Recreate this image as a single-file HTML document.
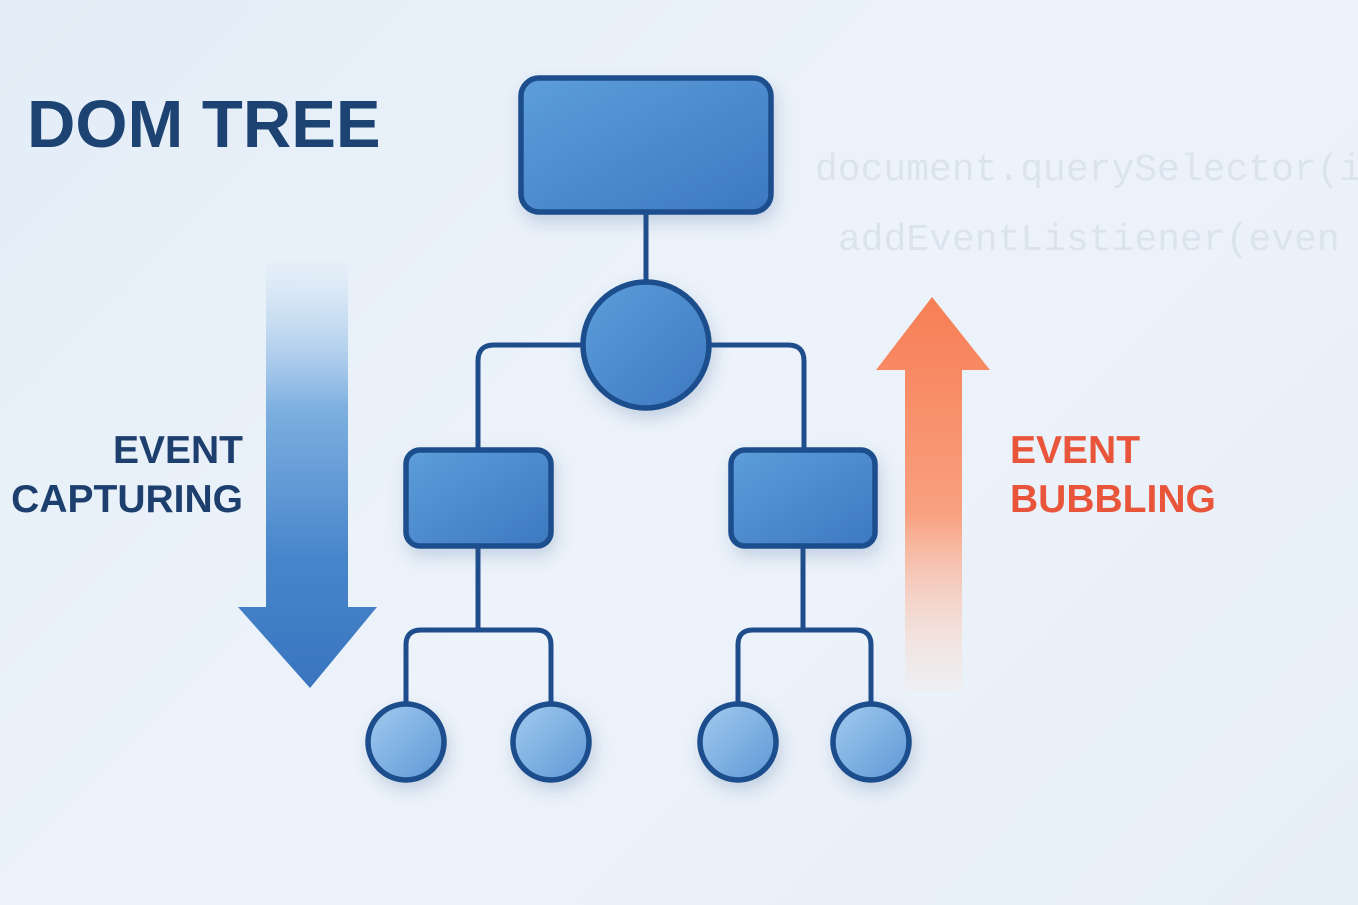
<!DOCTYPE html>
<html><head><meta charset="utf-8"><style>
html,body{margin:0;padding:0;}
body{width:1358px;height:905px;overflow:hidden;background:linear-gradient(135deg,#e3edf7 0%,#edf3fa 50%,#e6eef7 100%);}
svg{display:block;}
</style></head><body>
<svg width="1358" height="905" viewBox="0 0 1358 905" xmlns="http://www.w3.org/2000/svg">
<defs>
<linearGradient id="nf" x1="0" y1="0" x2="1" y2="1"><stop offset="0" stop-color="#5d9edb"/><stop offset="1" stop-color="#3d78c0"/></linearGradient>
<linearGradient id="lf" x1="0" y1="0" x2="1" y2="1"><stop offset="0" stop-color="#a3cbef"/><stop offset="1" stop-color="#5d98d6"/></linearGradient>
<linearGradient id="ba" x1="0" y1="257" x2="0" y2="688" gradientUnits="userSpaceOnUse"><stop offset="0" stop-color="#e8f1fa" stop-opacity="0.5"/><stop offset="0.35" stop-color="#7eb0e0"/><stop offset="0.7" stop-color="#4785cb"/><stop offset="1" stop-color="#3a75bf"/></linearGradient>
<linearGradient id="oa" x1="0" y1="297" x2="0" y2="690" gradientUnits="userSpaceOnUse"><stop offset="0" stop-color="#f77e55"/><stop offset="0.55" stop-color="#f9a07f"/><stop offset="1" stop-color="#fbe3d8" stop-opacity="0.2"/></linearGradient>
<filter id="sh" x="-20%" y="-20%" width="140%" height="150%"><feDropShadow dx="3" dy="8" stdDeviation="8" flood-color="#3a5f90" flood-opacity="0.22"/></filter>
</defs>
<text x="815" y="180" font-family="Liberation Mono, DejaVu Sans Mono, monospace" font-size="38" fill="#dbe4ee">document.querySelector(i</text>
<text x="838" y="250" font-family="Liberation Mono, DejaVu Sans Mono, monospace" font-size="38" fill="#dbe4ee">addEventListiener(even</text>
<text x="27" y="147" font-family="Liberation Sans, sans-serif" font-weight="bold" font-size="67" fill="#1d4373">DOM TREE</text>
<text x="243" y="463" text-anchor="end" font-family="Liberation Sans, sans-serif" font-weight="bold" font-size="39" fill="#1d3f6e">EVENT</text>
<text x="243" y="512" text-anchor="end" font-family="Liberation Sans, sans-serif" font-weight="bold" font-size="39" fill="#1d3f6e">CAPTURING</text>
<text x="1010" y="463" font-family="Liberation Sans, sans-serif" font-weight="bold" font-size="39" fill="#e8553a">EVENT</text>
<text x="1010" y="512" font-family="Liberation Sans, sans-serif" font-weight="bold" font-size="39" fill="#e8553a">BUBBLING</text>
<polygon points="266,257 348,257 348,607 377,607 310,688 238,607 266,607" fill="url(#ba)"/>
<polygon points="932,297 990,370 962,370 962,690 905,690 905,370 876,370" fill="url(#oa)"/>
<g fill="none" stroke="#1f4d8c" stroke-width="5" stroke-linejoin="round">
<line x1="646" y1="212" x2="646" y2="282"/>
<path d="M584 345 H494 Q478 345 478 361 V450"/>
<path d="M708 345 H788 Q804 345 804 361 V450"/>
<line x1="478" y1="546" x2="478" y2="630"/>
<path d="M406 704 V645 Q406 630 421 630 H536 Q551 630 551 645 V704"/>
<line x1="803" y1="546" x2="803" y2="630"/>
<path d="M738 704 V645 Q738 630 753 630 H856 Q871 630 871 645 V704"/>
</g>
<g stroke="#1f4d8c" stroke-width="5.5" filter="url(#sh)">
<rect x="521" y="78" width="250" height="134" rx="18" fill="url(#nf)"/>
<circle cx="646" cy="345" r="63" fill="url(#nf)"/>
<rect x="406" y="450" width="145" height="96" rx="14" fill="url(#nf)"/>
<rect x="731" y="450" width="144" height="96" rx="14" fill="url(#nf)"/>
<circle cx="406" cy="742" r="38" fill="url(#lf)"/>
<circle cx="551" cy="742" r="38" fill="url(#lf)"/>
<circle cx="738" cy="742" r="38" fill="url(#lf)"/>
<circle cx="871" cy="742" r="38" fill="url(#lf)"/>
</g>
</svg>
</body></html>
